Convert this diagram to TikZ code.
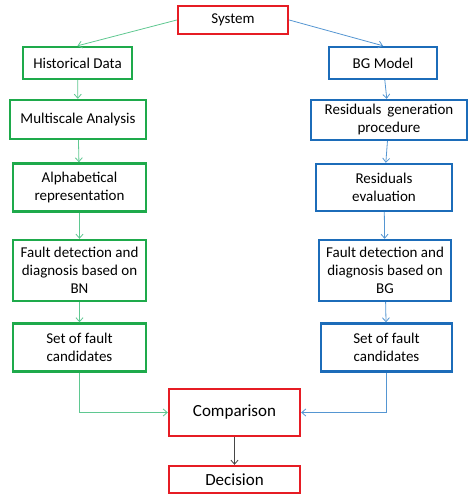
\documentclass[tikz,border=0pt]{standalone}
\usepackage{fontspec}
\setmainfont{Carlito}
\usetikzlibrary{arrows.meta}
\definecolor{boxred}{RGB}{230,28,36}
\definecolor{boxgreen}{RGB}{30,170,75}
\definecolor{boxblue}{RGB}{28,108,185}
\definecolor{arrgreen}{RGB}{95,200,145}
\definecolor{arrblue}{RGB}{85,150,210}
\definecolor{arrgray}{RGB}{70,70,70}
\tikzset{
  box/.style={draw, line width=2.4pt, align=center, inner sep=2pt, font=\fontsize{15}{18}\selectfont},
  greenbox/.style={box, draw=boxgreen},
  bluebox/.style={box, draw=boxblue},
  redbox/.style={box, draw=boxred},
  flow/.style={line width=0.8pt, -{Straight Barb[length=4pt,width=7pt]}},
  greenflow/.style={flow, arrgreen},
  blueflow/.style={flow, arrblue},
  grayflow/.style={flow, arrgray}
}
\begin{document}
\begin{tikzpicture}[x=1pt,y=-1pt]
	\useasboundingbox (0,0) rectangle (474,497);
	% top
	\node [redbox, minimum width=110pt, minimum height=28pt] (sys) at (233,20) {System};
	% left branch: data driven
	\node [greenbox, minimum width=109pt, minimum height=32pt] (hist) at (77.5,63) {Historical Data};
	\node [greenbox, minimum width=136pt, minimum height=39pt] (multi) at (78,119.5) {Multiscale Analysis};
	\node [greenbox, minimum width=133pt, minimum height=48pt] (alpha) at (79.5,187.5) {Alphabetical\\representation};
	\node [greenbox, minimum width=133pt, minimum height=61pt] (fdbn) at (79.5,270.5) {Fault detection and\\diagnosis based on\\BN};
	\node [greenbox, minimum width=133pt, minimum height=48pt] (setbn) at (79.5,347.5) {Set of fault\\candidates};
	% right branch: bond graph
	\node [bluebox, minimum width=108pt, minimum height=32pt] (bgm) at (383,63) {BG Model};
	\node [bluebox, minimum width=156pt, minimum height=40pt] (resgen) at (389,120) {Residuals\, generation\\procedure};
	\node [bluebox, minimum width=136pt, minimum height=47pt] (reseval) at (384,187.5) {Residuals\\evaluation};
	\node [bluebox, minimum width=132pt, minimum height=61pt] (fdbg) at (385,270.5) {Fault detection and\\diagnosis based on\\BG};
	\node [bluebox, minimum width=131pt, minimum height=48pt] (setbg) at (386.5,347.5) {Set of fault\\candidates};
	% bottom
	\node [redbox, minimum width=131pt, minimum height=47pt, font=\fontsize{17}{20}\selectfont] (comp) at (234.5,412.5) {Comparison};
	\node [redbox, minimum width=131pt, minimum height=27pt, font=\fontsize{17}{20}\selectfont] (dec) at (234.5,479.5) {Decision};
	% arrows
	\draw [greenflow] (sys.west) -- (hist.north);
	\draw [blueflow] (sys.east) -- (bgm.north);
	\draw [greenflow] (hist) -- (multi);
	\draw [greenflow] (multi) -- (alpha);
	\draw [greenflow] (alpha) -- (fdbn);
	\draw [greenflow] (fdbn) -- (setbn);
	\draw [blueflow] (bgm) -- (resgen);
	\draw [blueflow] (resgen) -- (reseval);
	\draw [blueflow] (reseval) -- (fdbg);
	\draw [blueflow] (fdbg) -- (setbg);
	\draw [greenflow] (setbn.south) |- (comp.west);
	\draw [blueflow] (setbg.south) |- (comp.east);
	\draw [grayflow] (comp) -- (dec);
\end{tikzpicture}
\end{document}
